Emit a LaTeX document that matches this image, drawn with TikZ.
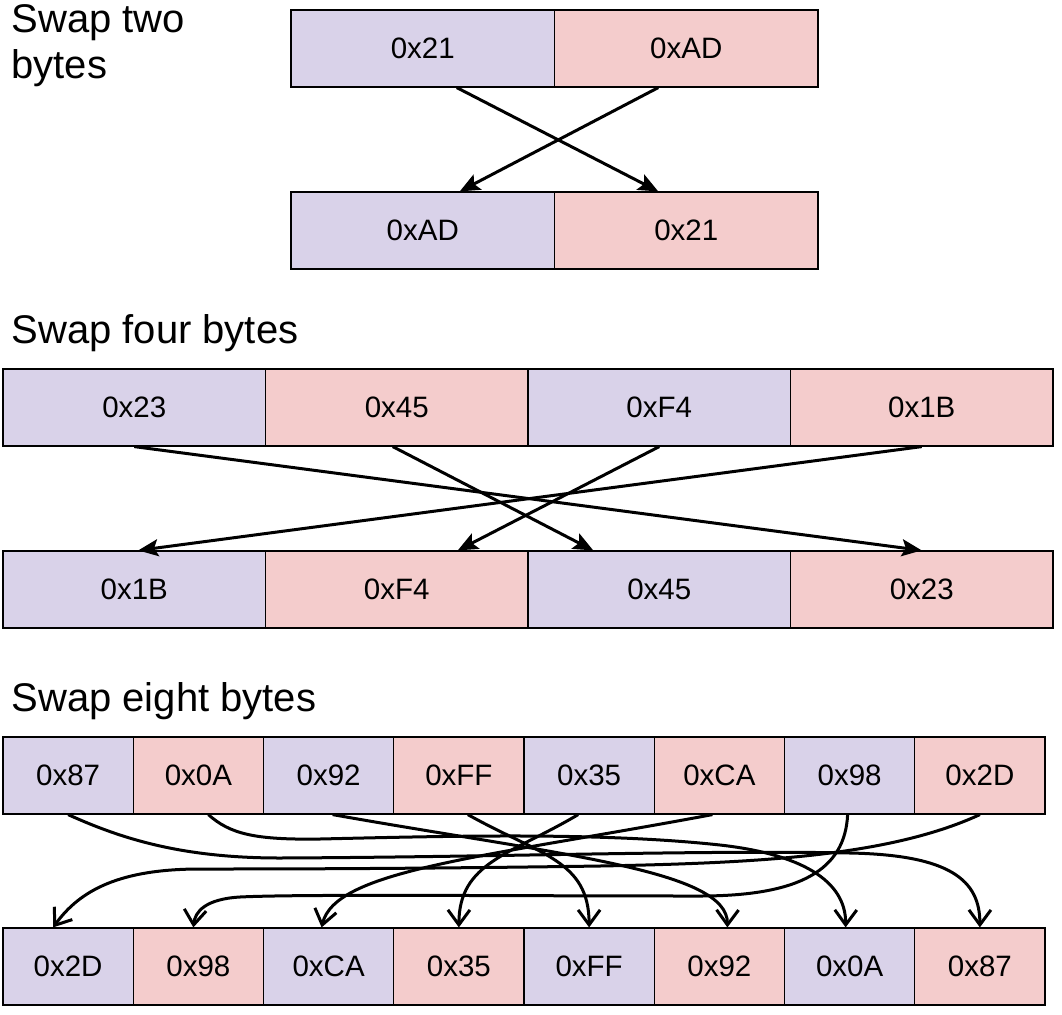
\documentclass[tikz,border=0pt]{standalone}
\usepackage{fontspec}
\setmainfont{Liberation Sans}
\usetikzlibrary{arrows.meta}
\definecolor{lav}{HTML}{D9D2E9}
\definecolor{pnk}{HTML}{F4CCCC}

\begin{document}
\begin{tikzpicture}[x=1pt,y=-1pt]
          \useasboundingbox (0,0) rectangle (1062,1014);
          \begin{scope}[every node/.style={anchor=base west,align=left,font=\fontsize{40}{46}\selectfont}]
            \node (title2) at (8,79) {Swap two\\bytes};
            \node (title4) at (8,343) {Swap four bytes};
            \node (title8) at (8,711) {Swap eight bytes};
          \end{scope}
          % two bytes
          \begin{scope}[every node/.style={draw,line width=1.2pt,minimum width=263.5pt,minimum height=77pt,inner sep=0pt,font=\fontsize{29.5}{34}\selectfont}]
            \node (p1) [fill=lav] at (422.75,48.5) {0x21};
            \node (p2) [fill=pnk] at (686.25,48.5) {0xAD};
            \node (q1) [fill=lav] at (422.75,230.5) {0xAD};
            \node (q2) [fill=pnk] at (686.25,230.5) {0x21};
          \end{scope}
          \begin{scope}[line width=3pt,-{Stealth[length=20pt,width=17pt,inset=4pt]}]
            \draw ([xshift=34pt]p1.south) -- ([xshift=-28pt]q2.north);
            \draw ([xshift=-28pt]p2.south) -- ([xshift=37pt]q1.north);
          \end{scope}
          % four bytes
          \begin{scope}[every node/.style={draw,line width=1.2pt,minimum width=262.5pt,minimum height=77pt,inner sep=0pt,font=\fontsize{29.5}{34}\selectfont}]
            \node (r1) [fill=lav] at (134.25,407.5) {0x23};
            \node (r2) [fill=pnk] at (396.75,407.5) {0x45};
            \node (r3) [fill=lav] at (659.25,407.5) {0xF4};
            \node (r4) [fill=pnk] at (921.75,407.5) {0x1B};
            \node (s1) [fill=lav] at (134.25,589.5) {0x1B};
            \node (s2) [fill=pnk] at (396.75,589.5) {0xF4};
            \node (s3) [fill=lav] at (659.25,589.5) {0x45};
            \node (s4) [fill=pnk] at (921.75,589.5) {0x23};
          \end{scope}
          \begin{scope}[line width=3pt,-{Stealth[length=20pt,width=17pt,inset=4pt]}]
            \draw (r1.south) -- (s4.north);
            \draw ([xshift=-4pt]r2.south) -- ([xshift=-66pt]s3.north);
            \draw (r3.south) -- ([xshift=61pt]s2.north);
            \draw (r4.south) -- ([xshift=4pt]s1.north);
          \end{scope}
          % eight bytes
          \begin{scope}[every node/.style={draw,line width=1.2pt,minimum width=130.25pt,minimum height=77pt,inner sep=0pt,font=\fontsize{29.5}{34}\selectfont}]
            \node (u1) [fill=lav] at (68.125,775.5) {0x87};
            \node (u2) [fill=pnk] at (198.375,775.5) {0x0A};
            \node (u3) [fill=lav] at (328.625,775.5) {0x92};
            \node (u4) [fill=pnk] at (458.875,775.5) {0xFF};
            \node (u5) [fill=lav] at (589.125,775.5) {0x35};
            \node (u6) [fill=pnk] at (719.375,775.5) {0xCA};
            \node (u7) [fill=lav] at (849.625,775.5) {0x98};
            \node (u8) [fill=pnk] at (979.875,775.5) {0x2D};
            \node (v1) [fill=lav] at (68.125,966.5) {0x2D};
            \node (v2) [fill=pnk] at (198.375,966.5) {0x98};
            \node (v3) [fill=lav] at (328.625,966.5) {0xCA};
            \node (v4) [fill=pnk] at (458.875,966.5) {0x35};
            \node (v5) [fill=lav] at (589.125,966.5) {0xFF};
            \node (v6) [fill=pnk] at (719.375,966.5) {0x92};
            \node (v7) [fill=lav] at (849.625,966.5) {0x0A};
            \node (v8) [fill=pnk] at (979.875,966.5) {0x87};
          \end{scope}
          \begin{scope}[line width=3pt,-{Straight Barb[length=15pt,width=22pt]}]
            \draw (u1.south) .. controls (120,838) and (180,858) .. (280,858)
              .. controls (500,857) and (700,850) .. (850,853)
              .. controls (950,855) and (980,880) .. (v8.north);
            \draw ([xshift=10pt]u2.south) .. controls (230,834) and (255,840) .. (320,839)
              .. controls (450,836) and (600,832) .. (720,845)
              .. controls (800,854) and (846,880) .. ([xshift=-4pt]v7.north);
            \draw ([xshift=4pt]u3.south) .. controls (560,855) and (728,870) .. ([xshift=8pt]v6.north);
            \draw ([xshift=9pt]u4.south) .. controls (540,855) and (589,860) .. (v5.north);
            \draw ([xshift=-11pt]u5.south) .. controls (510,855) and (459,862) .. (v4.north);
            \draw ([xshift=-7pt]u6.south) .. controls (480,858) and (335,870) .. ([xshift=-7pt]v3.north);
            \draw ([xshift=-2pt]u7.south) .. controls (845,870) and (800,896) .. (700,896)
              .. controls (500,896) and (300,894) .. (240,897)
              .. controls (205,899) and (195,912) .. ([xshift=-5pt]v2.north);
            \draw (u8.south) .. controls (890,856) and (760,863) .. (600,866)
              .. controls (400,869) and (260,869) .. (200,869)
              .. controls (120,869) and (80,890) .. ([xshift=-15pt]v1.north);
          \end{scope}
        \end{tikzpicture}
\end{document}
